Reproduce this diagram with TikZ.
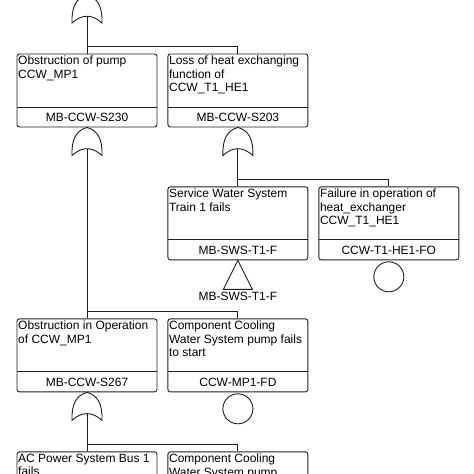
\documentclass[tikz,border=0pt]{standalone}
\usepackage{fontspec}
\setmainfont{Liberation Sans}
\usepackage{tikz}
\usetikzlibrary{positioning}
\definecolor{ftline}{HTML}{1e1e1e}

\tikzset{orgate/.pic={
  \draw[fill=white] (-15pt,-28pt) .. controls (-15.5pt,-12pt) and (-11pt,-3pt) .. (0,0)
    .. controls (11pt,-3pt) and (15.5pt,-12pt) .. (15pt,-28pt)
    .. controls (5pt,-19pt) and (-5pt,-19pt) .. (-15pt,-28pt) -- cycle;
  \coordinate (-out) at (0,-22pt);}}

\begin{document}
\begin{tikzpicture}[font=\fontsize{12}{13.3}\selectfont, line width=0.9pt, draw=ftline,
 evbox/.style={draw=ftline, rounded corners=2.5pt, minimum width=140pt, minimum height=73pt, inner sep=0pt,
   path picture={\draw[ftline] ([yshift=20pt]path picture bounding box.south west) -- ([yshift=20pt]path picture bounding box.south east);}},
 desc/.style={anchor=north west, align=left, inner xsep=1.2pt, inner ysep=2.2pt},
 code/.style={inner sep=1pt},
 basic/.style={draw=ftline, circle, minimum size=30pt, inner sep=0pt}]
\useasboundingbox (0,0) rectangle (474pt,-474pt);
\clip (0,0) rectangle (474pt,-474pt);

\node[evbox] (s230) at (87pt,-90.5pt) {};
\node[evbox, right=10pt of s230] (s203) {};
\node[evbox, below=59pt of s203] (swst1) {};
\node[evbox, right=10pt of swst1] (he1fo) {};
\node[evbox, below=191pt of s230] (s267) {};
\node[evbox, right=10pt of s267] (mp1fd) {};
\node[evbox, below=59pt of s267] (acbus) {};
\node[evbox, right=10pt of acbus] (ccwpump) {};

\node[desc] (s230-t) at (s230.north west) {Obstruction of pump\\CCW\_MP1};
\node[desc] (s203-t) at (s203.north west) {Loss of heat exchanging\\function of\\CCW\_T1\_HE1};
\node[desc] (swst1-t) at (swst1.north west) {Service Water System\\Train 1 fails};
\node[desc] (he1fo-t) at (he1fo.north west) {Failure in operation of\\heat\_exchanger\\CCW\_T1\_HE1};
\node[desc] (s267-t) at (s267.north west) {Obstruction in Operation\\of CCW\_MP1};
\node[desc] (mp1fd-t) at (mp1fd.north west) {Component Cooling\\Water System pump fails\\to start};
\node[desc] (acbus-t) at (acbus.north west) {AC Power System Bus 1\\fails};
\node[desc] (ccwpump-t) at (ccwpump.north west) {Component Cooling\\Water System pump};

\foreach \b/\t in {s230/MB-CCW-S230, s203/MB-CCW-S203, swst1/MB-SWS-T1-F,
  he1fo/CCW-T1-HE1-FO, s267/MB-CCW-S267, mp1fd/CCW-MP1-FD}
  {\node[code] (\b-id) at ([yshift=10pt]\b.south) {\t};}

% gates
\pic (gtop) at (87pt,5pt) {orgate};
\pic (g230) at (s230.south) {orgate};
\pic (g203) at (s203.south) {orgate};
\pic (g267) at (s267.south) {orgate};

\foreach \g/\a/\b in {gtop/s230/s203, g230/s267/mp1fd, g203/swst1/he1fo, g267/acbus/ccwpump}
  {\draw[ftline] (\g-out) -- (\a.north);
   \draw[ftline] ([yshift=7pt]\a.north) -| (\b.north);}

% transfer and basic events
\draw[ftline] (swst1.south) -- ++(-14.5pt,-29pt) coordinate (swst1-tl) -- ++(29pt,0) -- cycle;
\node[code, anchor=north, inner sep=2pt] (swst1-tr) at ([yshift=-29pt]swst1.south) {MB-SWS-T1-F};
\node[basic, below=1pt of he1fo] (he1fo-ev) {};
\node[basic, below=1pt of mp1fd] (mp1fd-ev) {};

\end{tikzpicture}
\end{document}
